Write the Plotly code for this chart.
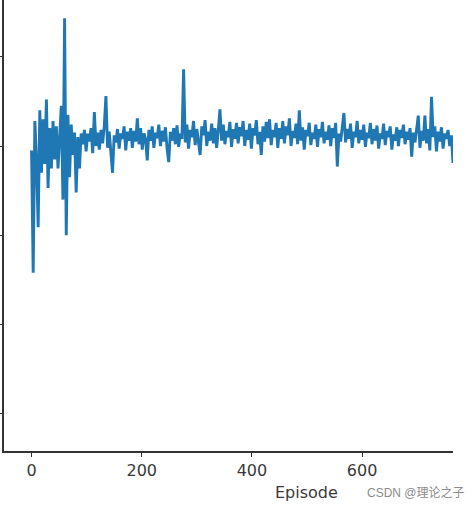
import plotly.graph_objects as go

# Episodes sampled every 3 steps
episodes = list(range(0, 766, 3))

# Reward values (arbitrary units, y tick spacing = 100)
early_values = [
    -5, -142, 28, -15, -91, 40, -30, 30, -20, 52,
    -47, 20, -25, 28, -15, 22, -25, 15, 45, -60,
    143, -100, 35, -35, 24, -10, 15, -52, 10, -25,
    14,
]
later_values = [
    2, 18, -6, 14, 5, 20, -8, 38, 0, 15,
    -4, 18, 3, 22, 56, -2, 16, -8, -30, 12,
    4, 19, -3, 14, 8, 22, -5, 16, 6, 20,
    -2, 17, 5, 31, 2, 20, -4, 14, 8, -16,
    18, 6, 22, -2, 15, 9, 24, 0, 17, 5,
    21, -3, -18, 16, 6, 20, 2, 23, -1, 14,
    8, 86, 4, 24, -3, 18, 10, 28, 1, 19,
    7, -10, 22, 12, 29, 0, 16, 6, 25, 3,
    20, -2, 18, 41, 6, 24, 2, 17, 10, 27,
    -1, 19, 8, 26, 3, 21, 11, 28, 0, 18,
    7, 25, -3, 20, 12, 29, 2, 16, -10, 22,
    5, 27, 9, 30, 1, 18, 10, 26, -2, 20,
    8, 28, 3, 22, 12, 31, 0, 17, 9, 25,
    2, 40, 6, 21, -4, 18, 11, 26, 1, 15,
    8, 24, -1, 19, 10, 27, 3, 16, 7, 23,
    0, 20, 9, 26, -23, 14, 5, 22, 37, 4,
    19, 8, 25, -2, 16, 10, 28, 3, 18, 7,
    24, -1, 15, 9, 26, 2, 19, 6, 23, -3,
    14, 8, 25, 1, 17, 10, 22, -4, 13, 6,
    21, 0, 18, 9, 24, 2, 16, 7, 20, -12,
    15, 4, 20, 34, -2, 17, 6, 34, 3, 19,
    -5, 55, 10, 22, -6, 16, 5, 21, -3, 14,
    8, 18, 0, 12, -19,
]
rewards = early_values + later_values

x_ticks = [0, 200, 400, 600]
y_ticks = [100, 0, -100, -200, -300]

n = min(len(episodes), len(rewards))

fig = go.Figure()
fig.add_trace(go.Scatter(
    x=episodes[:n], y=rewards[:n], mode="lines",
    line=dict(color="#1f77b4", width=2.9),
    hoverinfo="skip", showlegend=False,
))

fig.update_layout(
    width=474, height=506,
    margin=dict(l=4, r=21, t=0, b=55),
    paper_bgcolor="white", plot_bgcolor="white",
    font=dict(family="DejaVu Sans", size=16, color="#3a3a3a"),
    xaxis=dict(
        range=[-50, 765], tickvals=x_ticks, ticktext=[str(v) for v in x_ticks],
        showgrid=False, zeroline=False, showline=True, linecolor="#333333", linewidth=1.5,
        ticks="outside", ticklen=4, tickwidth=1.2, tickcolor="#333333",
        tickfont=dict(family="DejaVu Sans", size=16, color="#3a3a3a"),
    ),
    yaxis=dict(
        range=[-341.5, 163.5], tickvals=y_ticks, showticklabels=False,
        showgrid=False, zeroline=False, showline=True, linecolor="#333333", linewidth=1.5,
        ticks="outside", ticklen=4, tickwidth=1.2, tickcolor="#333333",
    ),
    annotations=[
        dict(text="Episode", xref="paper", yref="paper", x=0.674, y=-0.093,
             xanchor="center", yanchor="middle", showarrow=False,
             font=dict(family="DejaVu Sans", size=16, color="#3a3a3a")),
        dict(text="CSDN @理论之子", xref="paper", yref="paper", x=0.9165, y=-0.093,
             xanchor="center", yanchor="middle", showarrow=False,
             font=dict(family="Liberation Sans, Noto Sans CJK SC", size=12, color="#8c8c8c")),
    ],
)

fig.write_html("out.html", config={"displayModeBar": False},
               post_script="document.body.style.margin='0';document.body.style.overflow='hidden';")
